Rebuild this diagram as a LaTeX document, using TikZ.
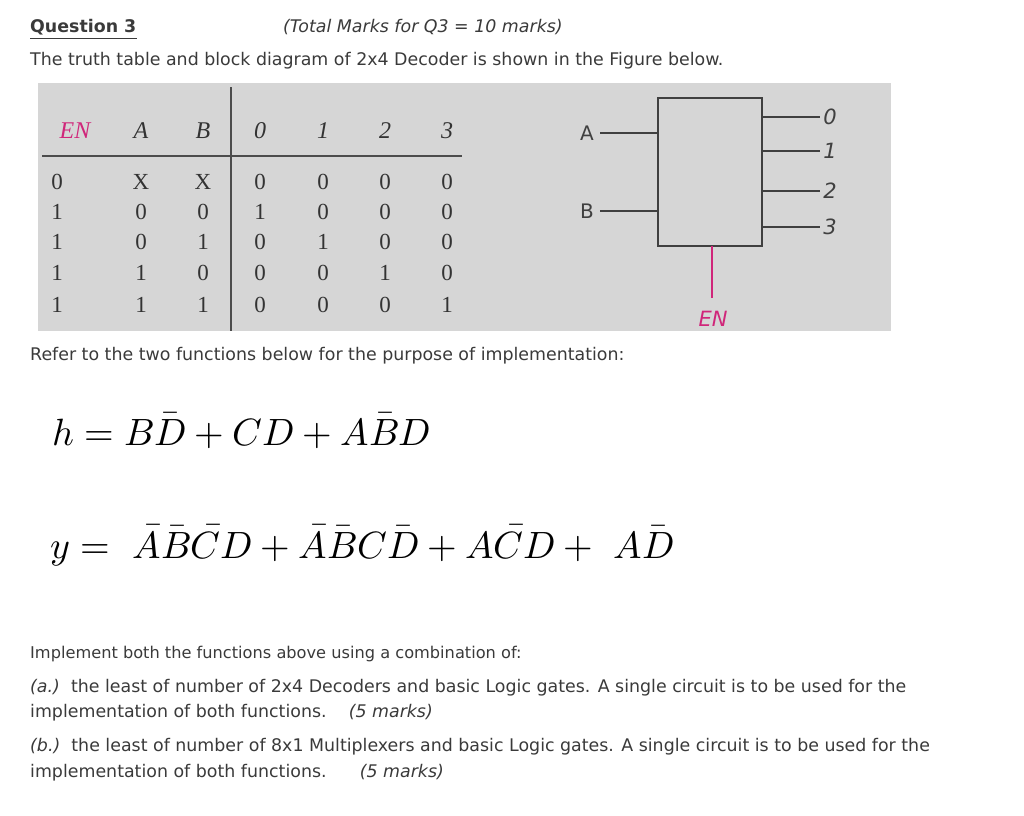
\documentclass[tikz,border=0pt]{standalone}
\usepackage{fontspec}
\usepackage{unicode-math}
\setmainfont{DejaVu Sans}
\setmathfont{Latin Modern Math}
\newfontfamily\tabfont{Liberation Serif}
\definecolor{panel}{HTML}{D6D6D6}
\definecolor{mag}{HTML}{D0267A}
\definecolor{txt}{HTML}{3A3A3A}
\begin{document}
\begin{tikzpicture}[x=1pt,y=-1pt,
  body/.style={anchor=west,inner sep=0pt,text=txt,font=\fontsize{17.4}{20}\selectfont},
  tb/.style={inner sep=0pt,font=\tabfont\fontsize{23}{25}\selectfont,text=black!80},
  th/.style={tb,font=\tabfont\itshape\fontsize{24}{26}\selectfont},
  dl/.style={inner sep=0pt,font=\itshape\fontsize{21}{24}\selectfont,text=black!75},
  wire/.style={draw=black!75,line width=1.2pt},
  eq/.style={anchor=west,inner sep=0pt,font=\fontsize{38}{42}\selectfont}]
\useasboundingbox (0,0) rectangle (1024,815);
\node[body,font=\bfseries\fontsize{17.4}{20}\selectfont] (q) at (30,27) {Question 3};
\draw[txt,line width=1pt] (q.south west) ++(0,3) -- ([yshift=-3pt]q.south east);
\node[body,font=\itshape\fontsize{17.4}{20}\selectfont] (tm) at (283,27) {(Total Marks for Q3 = 10 marks)};
\node[body] (l1) at (30,61) {The truth table and block diagram of 2x4 Decoder is shown in the Figure below.};
\fill[panel] (38,83) rectangle (891,331);
% table
\node[th,text=mag] (hEN) at (75,131) {EN};
\foreach \t/\x in {A/141,B/203,0/260,1/323,2/385,3/447}{\node[th] (h\t) at (\x,131) {\t};}
\draw[draw=black!70,line width=2.2pt] (42,156) -- (462,156);
\draw[draw=black!70,line width=1.4pt] (231,87) -- (231,331);
\foreach \r/\y in {{0,X,X,0,0,0,0}/182,{1,0,0,1,0,0,0}/212,{1,0,1,0,1,0,0}/242,{1,1,0,0,0,1,0}/273,{1,1,1,0,0,0,1}/305}{
  \foreach \v [count=\i] in \r {
    \pgfmathsetmacro\xx{{57,141,203,260,323,385,447}[\i-1]}
    \node[tb] (c\i-\y) at (\xx,\y) {\v};}}
% decoder
\draw[wire] (658,98) rectangle (762,246);
\node[dl,font=\fontsize{20}{22}\selectfont] (A) at (587,133) {A};
\node[dl,font=\fontsize{20}{22}\selectfont] (B) at (587,211) {B};
\coordinate (ai) at (658,133); \coordinate (bi) at (658,211);
\draw[wire] (A.east) ++(6,0) -- (ai);
\draw[wire] (B.east) ++(6,0) -- (bi);
\foreach \o/\y in {0/117,1/151,2/191,3/227}{
  \node[dl] (o\o) at (830,\y) {\o};
  \coordinate (s\o) at (762,\y);
  \draw[wire] (s\o) -- ([xshift=-3pt]o\o.west);}
\node[dl,text=mag] (EN) at (713,319) {EN};
\coordinate (enb) at (712,246);
\draw[draw=mag,line width=1.4pt] (enb) -- (712,298);
% text
\node[body] (ref) at (30,356) {Refer to the two functions below for the purpose of implementation:};
\node[eq] (h) at (52,430) {$h = B\bar{D} + CD + A\bar{B}D$};
\node[eq] (y) at (50,545) {$y =\ \bar{A}\bar{B}\bar{C}D + \bar{A}\bar{B}C\bar{D} + A\bar{C}D +\ A\bar{D}$};
\node[body,font=\fontsize{16.2}{19}\selectfont] (imp) at (30,654) {Implement both the functions above using a combination of:};
\node[body] (a1) at (30,688) {\textit{(a.)}\ \ the least of number of 2x4 Decoders and basic Logic gates. A single circuit is to be used for the};
\node[body] (a2) at (30,713) {implementation of both functions.\ \ \ \ \textit{(5 marks)}};
\node[body] (b1) at (30,747) {\textit{(b.)}\ \ the least of number of 8x1 Multiplexers and basic Logic gates. A single circuit is to be used for the};
\node[body] (b2) at (30,773) {implementation of both functions.\ \ \ \ \ \ \textit{(5 marks)}};
\end{tikzpicture}
\end{document}
